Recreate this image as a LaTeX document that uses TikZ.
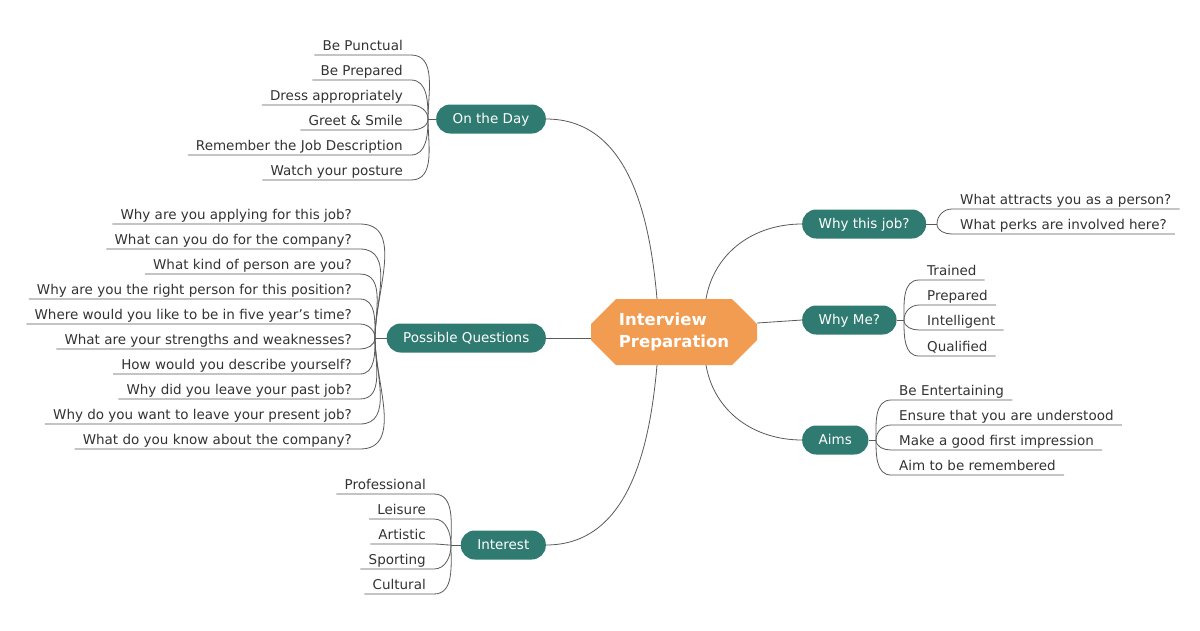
\documentclass[tikz,border=0pt]{standalone}
\usepackage{fontspec}
\setmainfont{DejaVu Sans}
\usetikzlibrary{shapes.misc}
\definecolor{teal2}{HTML}{2F7B71}
\definecolor{orng}{HTML}{F29C52}
\definecolor{lgray}{HTML}{5A5A5A}
\definecolor{txt}{HTML}{333333}
\begin{document}
\begin{tikzpicture}[x=1pt,y=-1pt,
 conn/.style={draw=lgray,line width=0.8pt},
 branch/.style={rectangle,rounded corners=14pt,fill=teal2,text=white,minimum height=29pt,inner xsep=16.5pt,inner ysep=0pt,text height=9.8pt,text depth=0pt,font=\fontsize{13.5}{16}\selectfont},
 leaf/.style={text=txt,font=\fontsize{13.5}{16}\selectfont,inner xsep=8pt,inner ysep=1pt,text height=9.8pt,text depth=3pt},
 leafL/.style={leaf,anchor=south east},
 leafR/.style={leaf,anchor=south west},
 central/.style={chamfered rectangle,chamfered rectangle xsep=13pt,chamfered rectangle ysep=12pt,fill=orng,draw=none,minimum width=166pt,minimum height=66pt,inner sep=0pt,text=white,font=\fontsize{16.5}{22}\selectfont\bfseries,align=left}]
\useasboundingbox[fill=white] (0,0) rectangle (1200,630);

\node[central] (C) at (674,332) {Interview\\Preparation};

\node[branch,anchor=east] (OD) at (546,119) {On the Day};
\node[branch,anchor=east] (PQ) at (546,338) {Possible Questions};
\node[branch,anchor=east] (IN) at (546,545) {Interest};
\node[branch,anchor=west] (WJ) at (802,224) {Why this job?};
\node[branch,anchor=west] (WM) at (802,320) {Why Me?};
\node[branch,anchor=west] (AI) at (802,440) {Aims};

\coordinate (J1) at (428,119);
\coordinate (J2) at (375,338);
\coordinate (J3) at (451,545);
\coordinate (J4) at (937,224);
\coordinate (J5) at (904,320);
\coordinate (J6) at (876,440);

\draw[conn] ([xshift=-17pt]C.north) to[out=95,in=0] (OD.east);
\draw[conn] ([yshift=-6pt]C.west) -- (PQ.east);
\draw[conn] ([xshift=-17pt]C.south) to[out=-95,in=0] (IN.east);
\draw[conn] ([xshift=32pt]C.north) to[out=80,in=180] (WJ.west);
\draw[conn] ([yshift=9pt]C.east) -- (WM.west);
\draw[conn] ([xshift=32pt]C.south) to[out=-80,in=180] (AI.west);

\draw[conn] (J1) -- (OD.west);
\draw[conn] (J2) -- (PQ.west);
\draw[conn] (J3) -- (IN.west);
\draw[conn] (J4) -- (WJ.east);
\draw[conn] (J5) -- (WM.east);
\draw[conn] (J6) -- (AI.east);

\foreach \i/\y/\a/\t in {1/55/90/Be Punctual, 2/80/90/Be Prepared, 3/105/90/Dress appropriately, 4/130/-90/Greet \& Smile, 5/155/-90/Remember the Job Description, 6/180/-90/Watch your posture}{
  \node[leafL] (od\i) at (411,\y) {\t};
  \draw[conn] (od\i.south west) -- (od\i.south east) to[out=0,in=\a] (J1);
}
\foreach \i/\y/\a/\t in {1/224/90/Why are you applying for this job?, 2/249/90/What can you do for the company?, 3/274/90/What kind of person are you?, 4/299/90/Why are you the right person for this position?, 5/324/90/Where would you like to be in five year’s time?, 6/349/-90/What are your strengths and weaknesses?, 7/374/-90/How would you describe yourself?, 8/399/-90/Why did you leave your past job?, 9/424/-90/Why do you want to leave your present job?, 10/449/-90/What do you know about the company?}{
  \node[leafL] (pq\i) at (360,\y) {\t};
  \draw[conn] (pq\i.south west) -- (pq\i.south east) to[out=0,in=\a] (J2);
}
\foreach \i/\y/\a/\t in {1/494/90/Professional, 2/519/90/Leisure, 3/544/180/Artistic, 4/569/-90/Sporting, 5/594/-90/Cultural}{
  \node[leafL] (in\i) at (434,\y) {\t};
  \draw[conn] (in\i.south west) -- (in\i.south east) to[out=0,in=\a] (J3);
}
\foreach \i/\y/\a/\t in {1/209/90/What attracts you as a person?, 2/234/-90/What perks are involved here?}{
  \node[leafR] (wj\i) at (952,\y) {\t};
  \draw[conn] (wj\i.south east) -- (wj\i.south west) to[out=180,in=\a] (J4);
}
\foreach \i/\y/\a/\t in {1/280/90/Trained, 2/305/90/Prepared, 3/330/-90/Intelligent, 4/356/-90/Qualified}{
  \node[leafR] (wm\i) at (919,\y) {\t};
  \draw[conn] (wm\i.south east) -- (wm\i.south west) to[out=180,in=\a] (J5);
}
\foreach \i/\y/\a/\t in {1/400/90/Be Entertaining, 2/425/90/Ensure that you are understood, 3/450/-90/Make a good first impression, 4/475/-90/Aim to be remembered}{
  \node[leafR] (ai\i) at (891,\y) {\t};
  \draw[conn] (ai\i.south east) -- (ai\i.south west) to[out=180,in=\a] (J6);
}
\end{tikzpicture}
\end{document}
